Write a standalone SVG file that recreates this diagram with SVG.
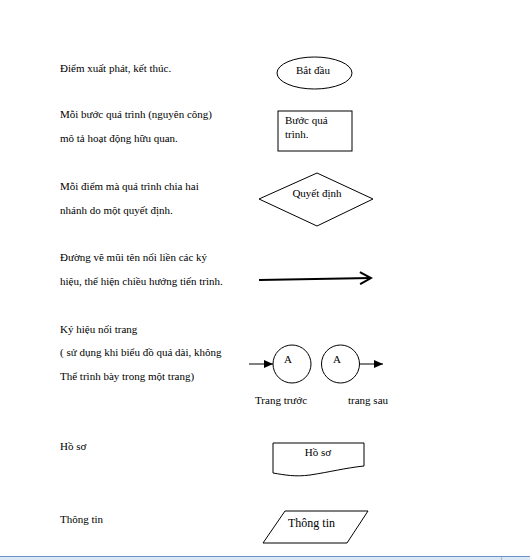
<svg xmlns="http://www.w3.org/2000/svg" width="530" height="560" viewBox="0 0 530 560">
<defs>
<style>
text{font-family:"Liberation Serif","Times New Roman",serif;font-size:11px;fill:#000}
.s{fill:#fff;stroke:#000;stroke-width:1}
.c{text-anchor:middle}
</style>
<marker id="ah" markerWidth="14" markerHeight="14" refX="12" refY="7" orient="auto" markerUnits="userSpaceOnUse">
<path d="M1,1 L12,7 L1,13" fill="none" stroke="#000" stroke-width="2"/>
</marker>
<marker id="as" markerWidth="10" markerHeight="10" refX="9" refY="5" orient="auto" markerUnits="userSpaceOnUse">
<path d="M0,1 L9,5 L0,9 Z" fill="#000"/>
</marker>
</defs>
<rect width="530" height="560" fill="#fff"/>
<g id="descriptions">
<text x="60" y="72">Điểm xuất phát, kết thúc.</text>
<text x="60" y="118">Mỗi bước quá trình (nguyên công)</text>
<text x="60" y="142">mô tả hoạt động hữu quan.</text>
<text x="60" y="190">Mỗi điểm mà quá trình chia hai</text>
<text x="60" y="214">nhánh do một quyết định.</text>
<text x="60" y="261">Đường vẽ mũi tên nối liền các ký</text>
<text x="60" y="285">hiệu, thể hiện chiều hướng tiến trình.</text>
<text x="60" y="333">Ký hiệu nối trang</text>
<text x="60" y="356">( sử dụng khi biểu đồ quá dài, không</text>
<text x="60" y="380">Thể trình bày trong một trang)</text>
<text x="60" y="450">Hồ sơ</text>
<text x="60" y="523">Thông tin</text>
</g>
<g id="start">
<ellipse class="s" cx="314.5" cy="73" rx="37.5" ry="16"/>
<text class="c" x="313" y="74">Bắt đầu</text>
</g>
<g id="process">
<rect class="s" x="278" y="111" width="74" height="40"/>
<text x="285" y="124">Bước quá</text>
<text x="285" y="138">trình.</text>
</g>
<g id="decision">
<polygon class="s" points="259,199 317,173 373,199 317,226"/>
<text class="c" x="317" y="197">Quyết định</text>
</g>
<g id="connector-a1">
<circle class="s" cx="292" cy="364" r="19"/>
<text x="284" y="363">A</text>
</g>
<g id="connector-a2">
<circle class="s" cx="340.5" cy="364" r="19"/>
<text x="333" y="363">A</text>
</g>
<g id="labels">
<text x="255" y="404">Trang trước</text>
<text x="348" y="404">trang sau</text>
</g>
<g id="document">
<path class="s" d="M273,443 L364,443 L364,466 C345,468 330,472 310,475 C295,477 285,475 273,473 Z"/>
<text class="c" x="318" y="456">Hồ sơ</text>
</g>
<g id="data">
<polygon class="s" points="285,511 368,511 347,543 263,543"/>
<text x="288" y="527" style="font-size:12px">Thông tin</text>
</g>
<g id="connectors" fill="none" stroke="#000">
<path d="M259,280 L371,278" stroke-width="2" marker-end="url(#ah)"/>
<path d="M249,364 L273,364" marker-end="url(#as)"/>
<path d="M359.5,364 L383,364" marker-end="url(#as)"/>
</g>
<g id="statusbar">
<rect x="0" y="556" width="530" height="4" fill="#dbe7f5"/>
<line x1="0" y1="556.5" x2="530" y2="556.5" stroke="#6b93c6" stroke-width="1"/>
<line x1="501.5" y1="557" x2="501.5" y2="560" stroke="#9fb8d8"/>
</g>
</svg>
